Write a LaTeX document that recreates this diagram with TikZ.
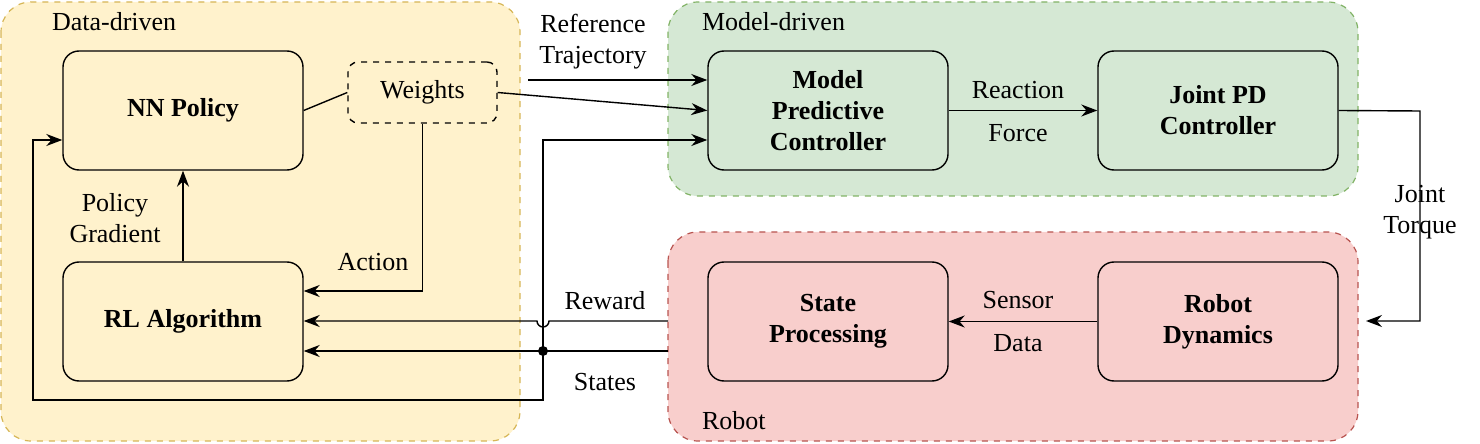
\documentclass[tikz,border=0pt]{standalone}
\usepackage{fontspec}
\setmainfont{Liberation Serif}
\usetikzlibrary{arrows.meta}
\definecolor{yfill}{HTML}{FFF2CC}\definecolor{ydraw}{HTML}{D6B656}
\definecolor{gfill}{HTML}{D5E8D4}\definecolor{gdraw}{HTML}{82B366}
\definecolor{rfill}{HTML}{F8CECC}\definecolor{rdraw}{HTML}{B85450}
\begin{document}
\begin{tikzpicture}[x=0.5pt,y=-0.5pt,
  font=\fontsize{13}{15.5}\selectfont,
  grp/.style={draw=#1,dashed,line width=0.6pt,rounded corners=15pt},
  blk/.style={draw,line width=0.7pt,rounded corners=8pt,minimum width=120pt,minimum height=59.5pt,align=center,font=\fontsize{13}{15.5}\selectfont\bfseries},
  lbl/.style={align=center},
  arr/.style={-{Stealth[length=8pt,width=6pt]},line width=0.7pt},
  ln/.style={line width=0.7pt}]
\useasboundingbox (0,0) rectangle (1480,444);
\filldraw[grp=ydraw,fill=yfill] (1,2) rectangle (520,441);
\filldraw[grp=gdraw,fill=gfill] (668,2) rectangle (1358,196);
\filldraw[grp=rdraw,fill=rfill] (668,232) rectangle (1358,441);
\node[anchor=west] (tdd) at (45,22) {Data-driven};
\node[anchor=west] (tmd) at (695,22) {Model-driven};
\node[anchor=west] (trb) at (695,421) {Robot};
\node[blk,fill=yfill] (nn) at (183,110.5) {NN Policy};
\node[blk,fill=yfill] (rl) at (183,321.5) {RL Algorithm};
\node[blk,fill=gfill] (mpc) at (828,110.5) {Model\\Predictive\\Controller};
\node[blk,fill=gfill] (pd) at (1218,110.5) {Joint PD\\Controller};
\node[blk,fill=rfill] (sp) at (828,321.5) {State\\Processing};
\node[blk,fill=rfill] (rd) at (1218,321.5) {Robot\\Dynamics};
\node[draw,dashed,line width=0.7pt,rounded corners=5pt,fill=yfill,minimum width=74.5pt,minimum height=30.5pt] (w) at (422.5,92.5) {Weights};
% reference trajectory
\coordinate (rt) at (528,80);
\node[lbl] (trt) at (593,42) {Reference\\Trajectory};
\draw[arr] (rt) -- (rt -| mpc.west);
\draw[arr] (nn.east) -- (w.west) (w.east) -- (nn.east -| mpc.west);
\draw[arr] (w.south) |- (rl.east |- 0,291);
\node[lbl] (ta) at (373,262) {Action};
\draw[arr] (rl.north) -- (nn.south);
\node[lbl] (tpg) at (115,218) {Policy\\Gradient};
\draw[arr] (mpc.east) -- (pd.west);
\node[lbl] (trf) at (1018,112) {Reaction\\[6pt]Force};
\coordinate (jt1) at (1420,111);
\coordinate (jt2) at (1366,321);
\draw[arr] (pd.east) -- (jt1) |- (jt2);
\node[lbl] (tjt) at (1420,212) {Joint\\Torque};
\draw[arr] (rd.west) -- (sp.east);
\node[lbl] (tsd) at (1018,322) {Sensor\\[6pt]Data};
% reward with hop
\coordinate (rw) at (668,321);
\coordinate (st) at (668,351);
\draw[arr] (rw) -- (549,321) arc[start angle=0,end angle=180,radius=6] -- (rl.east |- rw);
\node[lbl] (trw) at (605,301) {Reward};
\draw[arr] (st) -- (rl.east |- st);
\node[lbl] (tst) at (605,382) {States};
\coordinate (j) at (543,351);
\fill (j) circle (5);
\draw[arr] (j) |- (mpc.west |- 0,140);
\draw[arr] (j) -- (543,400) -| (33,140) -- (nn.west |- 0,140);
\end{tikzpicture}
\end{document}
